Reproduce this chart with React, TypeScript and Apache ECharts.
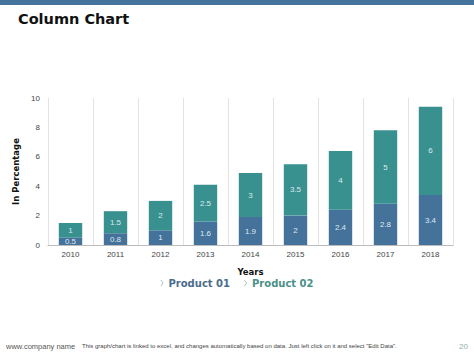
import React, { useEffect, useRef } from "react";
import * as echarts from "echarts";

const years = ["2010", "2011", "2012", "2013", "2014", "2015", "2016", "2017", "2018"];
const product01 = [0.5, 0.8, 1, 1.6, 1.9, 2, 2.4, 2.8, 3.4];
const product02 = [1, 1.5, 2, 2.5, 3, 3.5, 4, 5, 6];
const seriesNames = ["Product 01", "Product 02"];
const colors = ["#44729a", "#38908f"];

export default function App() {
  const ref = useRef<HTMLDivElement>(null);
  useEffect(() => {
    if (!ref.current) return;
    const chart = echarts.init(ref.current, null, { renderer: "svg" });
    const chevron = "path://M0,0 L1,0 L4,4 L1,8 L0,8 L3,4 Z";
    const labelCfg = {
      show: true,
      position: "inside" as const,
      color: "#dfe8ef",
      fontSize: 8,
      fontFamily: "Liberation Sans",
    };
    chart.setOption({
      animation: false,
      backgroundColor: "#ffffff",
      graphic: [
        { type: "rect", left: 0, top: 0, shape: { width: 474, height: 5 }, style: { fill: "#46739b" } },
        {
          type: "text",
          left: 18,
          top: 11,
          style: { text: "Column Chart", font: "bold 14.5px 'DejaVu Sans'", fill: "#111" },
        },
        {
          type: "text",
          left: 6,
          top: 342,
          style: { text: "www.company name", font: "7.5px 'Liberation Sans'", fill: "#555" },
        },
        {
          type: "text",
          left: 82,
          top: 343,
          style: {
            text: 'This graph/chart is linked to excel, and changes automatically based on data. Just left click on it and select "Edit Data".',
            font: "6px 'Liberation Sans'",
            fill: "#444",
          },
        },
        {
          type: "text",
          left: 459,
          top: 342,
          style: { text: "20", font: "8px 'Liberation Sans'", fill: "#8fb0a8" },
        },
      ],
      legend: {
        top: 273,
        left: "center",
        itemWidth: 3,
        itemHeight: 6,
        itemGap: 14,
        icon: chevron,
        data: seriesNames.map((n) => ({ name: n, itemStyle: { color: "#9aa" } })),
        formatter: (name: string) => (name === seriesNames[0] ? `{a|${name}}` : `{b|${name}}`),
        textStyle: {
          rich: {
            a: { color: "#4a6d8c", fontSize: 10, fontWeight: "bold", fontFamily: "DejaVu Sans" },
            b: { color: "#4b9088", fontSize: 10, fontWeight: "bold", fontFamily: "DejaVu Sans" },
          },
        },
      },
      grid: { left: 48, right: 21, top: 98, bottom: 110 },
      xAxis: {
        type: "category",
        data: years,
        name: "Years",
        nameLocation: "middle",
        nameGap: 22,
        nameTextStyle: { fontSize: 8.5, fontWeight: "bold", color: "#111", fontFamily: "DejaVu Sans" },
        axisLine: { lineStyle: { color: "#bbb" } },
        axisTick: { show: false },
        axisLabel: { fontSize: 8, color: "#444", fontFamily: "Liberation Sans", margin: 5 },
        splitLine: { show: true, lineStyle: { color: "#e3e3e3" } },
      },
      yAxis: {
        type: "value",
        min: 0,
        max: 10,
        interval: 2,
        name: "In Percentage",
        nameLocation: "middle",
        nameGap: 19,
        nameTextStyle: { fontSize: 8.5, fontWeight: "bold", color: "#111", fontFamily: "DejaVu Sans" },
        axisLine: { show: false },
        axisTick: { show: false },
        splitLine: { show: false },
        axisLabel: { fontSize: 8, color: "#444", fontFamily: "Liberation Sans", margin: 8 },
      },
      series: [
        {
          name: seriesNames[0],
          type: "bar",
          stack: "total",
          data: product01,
          barWidth: "52%",
          itemStyle: { color: colors[0] },
          label: labelCfg,
        },
        {
          name: seriesNames[1],
          type: "bar",
          stack: "total",
          data: product02,
          barWidth: "52%",
          itemStyle: { color: colors[1] },
          label: labelCfg,
        },
      ],
    });
    return () => chart.dispose();
  }, []);
  return <div ref={ref} style={{ position: "fixed", left: 0, top: 0, width: 474, height: 355 }} />;
}
